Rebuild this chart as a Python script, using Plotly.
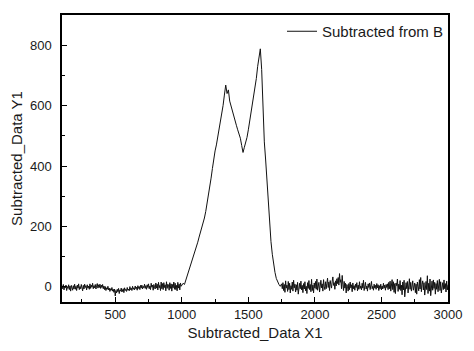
import plotly.graph_objects as go

# Baseline before the peaks: x = 100 .. 995, step 5
y_left = [
    4, -6, 8, -10, 2, -3, 6, -12, 1, -5,
    7, -9, 3, -14, 5, -2, -11, 4, -7, 9,
    -8, 2, -12, 6, -4, 10, -9, 1, -6, 8,
    -3, -13, 5, -7, 9, -2, 4, -10, 7, -4,
    3, -8, 10, -5, 6, -1, 12, -6, 4, -3,
    8, -7, 5, 11, -4, 7, -2, 9, -5, 6,
    -2, 8, -6, 3, -9, 1, -12, -3, -8, 2,
    -10, -4, -15, -6, -11, -2, -14, -8, -18, -7,
    -30, -12, -20, -8, -16, -5, -22, -10, -14, -4,
    -17, -9, -6, -19, -3, -12, -8, -15, -2, -11,
    -7, -13, 1, -9, -4, -12, 2, -8, -3, -10,
    3, -6, -1, -11, 4, -5, 1, -9, 5, -4,
    6, -7, 2, -3, 9, -5, 4, -8, 7, -2,
    10, -6, 3, -9, 12, -1, 6, -11, 8, 0,
    -7, 13, -4, 9, -10, 15, -3, 5, -12, 16,
    -6, 11, -9, 14, -2, 7, -13, 17, -5, 9,
    6, -11, 14, -5, 10, -14, 8, -3, 16, -8,
    12, -9, 5, -13, 15, -4, 9, -10, 13, 2,
]
# Peak region: x = 1000 .. 1750, step 10
y_peak = [
    5, 12, 8, 22, 30, 45, 58, 72, 85, 98,
    112, 130, 148, 165, 180, 192, 208, 228, 250, 275,
    298, 325, 360, 392, 425, 450, 470, 495, 520, 548,
    572, 600, 635, 668, 640, 652, 615, 598, 578, 565,
    548, 535, 520, 508, 492, 468, 445, 462, 478, 495,
    520, 548, 572, 600, 625, 650, 690, 730, 765, 788,
    720, 590, 480, 420, 350, 265, 205, 150, 108, 72,
    48, 28, 14, 8, 2, 10,
]
# Baseline after the peaks: x = 1755 .. 3000, step 5
y_right = [
    -6, 14, -12, 8, -18, 20, -4, 6, -15, 18,
    -9, 12, -20, 4, -8, 16, -14, 22, -3, 9,
    -17, 7, -11, 15, -24, 3, 12, -6, 19, -10,
    5, -19, 11, -7, 17, -13, 2, -22, 14, -5,
    21, -9, 8, -16, 25, -12, 6, -20, 13, -4,
    18, -8, 26, -11, 4, 15, -17, 9, 22, -3,
    10, -14, 24, 2, -9, 17, -6, 12, 29, -2,
    16, -12, 21, 7, -4, 19, 33, 5, 14, -8,
    20, 3, 27, 11, 31, 6, 44, 15, 24, -6,
    38, 9, -12, 18, -4, 12, -20, 8, 2, -14,
    11, -9, 16, -3, 7, -16, 13, -6, 4, -11,
    9, -2, 14, -13, 6, -8, 17, -5, 3, -10,
    12, -4, 22, -12, 8, 15, -7, 3, -14, 10,
    -2, 13, -9, 6, 18, -6, 2, -11, 9, -4,
    5, -8, 11, -3, 7, -12, 4, -6, 9, -10,
    3, -7, 12, -4, 6, -11, 8, -2, 10, -9,
    15, -6, 19, -14, 7, 24, -9, 17, -18, 11,
    -22, 13, 4, 26, -15, 9, -8, 21, -12, 6,
    -26, 16, -10, 22, -33, 8, 14, -6, 18, -20,
    10, 27, -8, 15, -14, 6, 20, -11, 4, 13,
    -19, 9, -24, 16, 2, -13, 24, -7, 31, -16,
    8, 20, -10, 14, -27, 5, 18, -9, 37, -22,
    12, -14, 26, -29, 9, 19, -11, 23, -5, 15,
    -24, 11, -8, 21, -16, 6, 25, -12, 17, -20,
    8, 14, -9, 23, -6, 11, -17, 19, -10, 7,
]
# (start x, step, values)
segments = [(100, 5, y_left), (1000, 10, y_peak), (1755, 5, y_right)]

xs, ys = [], []
for start, step, vals in segments:
    xs += [start + step * i for i in range(len(vals))]
    ys += vals

FONT = "Liberation Sans, Arial, sans-serif"
TXT = "#1a1a1a"

fig = go.Figure()
fig.add_trace(go.Scatter(
    x=xs, y=ys, mode="lines", name="Subtracted from B",
    line=dict(color="#111111", width=1),
))

axis_common = dict(
    showline=True, linecolor="black", linewidth=1.5, mirror=True,
    ticks="inside", ticklen=5, tickwidth=1, tickcolor="black",
    showgrid=False, zeroline=False,
    tickfont=dict(family=FONT, size=13, color=TXT),
)
fig.update_xaxes(
    range=[100, 3000], tick0=0, dtick=500,
    minor=dict(ticks="inside", ticklen=3, dtick=250, tick0=0, tickcolor="black"),
    title=dict(text="Subtracted_Data X1", font=dict(family=FONT, size=15, color=TXT), standoff=6),
    **axis_common,
)
fig.update_yaxes(
    range=[-50, 900], tick0=0, dtick=200,
    minor=dict(ticks="inside", ticklen=3, dtick=100, tick0=0, tickcolor="black"),
    title=dict(text="Subtracted_Data Y1", font=dict(family=FONT, size=15, color=TXT), standoff=4),
    ticklabelstandoff=6,
    **axis_common,
)
fig.update_layout(
    width=474, height=351,
    margin=dict(l=62, r=24, t=15, b=49),
    paper_bgcolor="white", plot_bgcolor="white",
    showlegend=True,
    legend=dict(x=1, y=1, xanchor="right", yanchor="top",
                bgcolor="rgba(0,0,0,0)", borderwidth=0,
                font=dict(family=FONT, size=15, color=TXT),
                itemwidth=30),
)
fig.write_html("out.html")
